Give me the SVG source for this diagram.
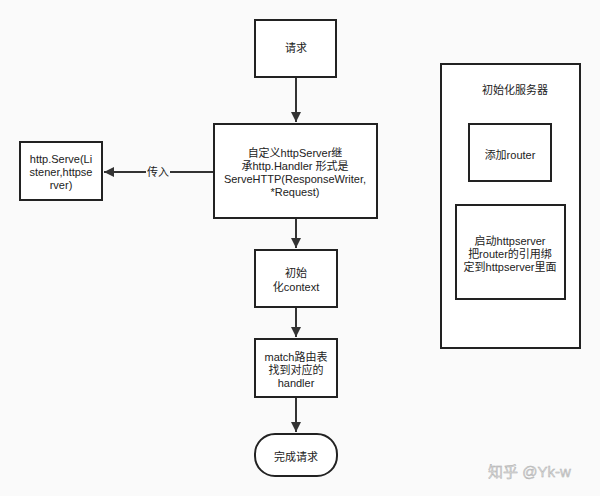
<svg xmlns="http://www.w3.org/2000/svg" width="600" height="496" viewBox="0 0 600 496">
<defs>
<style>
.n{fill:#fff;stroke:#222;stroke-width:2}
.t{font-family:"Liberation Sans","Noto Sans CJK SC",sans-serif;font-size:11px;fill:#222;text-anchor:middle}
.c{fill:none;stroke:#333;stroke-width:2}
.wm{font-family:"Liberation Sans","Noto Sans CJK SC",sans-serif;font-size:15px;fill:#d8d8d8;stroke:#aaa;stroke-width:0.4}
</style>
<marker id="ah" viewBox="0 0 10 10" refX="10" refY="5" markerWidth="10" markerHeight="10" markerUnits="userSpaceOnUse" orient="auto">
<path d="M0,0 L10,5 L0,10 z" fill="#333"/>
</marker>
</defs>
<rect width="600" height="496" fill="#fafafa"/>
<g id="connectors">
<path class="c" d="M296,77 V122" marker-end="url(#ah)"/>
<path class="c" d="M214,172 H104" marker-end="url(#ah)"/>
<path class="c" d="M296,218 V248" marker-end="url(#ah)"/>
<path class="c" d="M296,307 V337" marker-end="url(#ah)"/>
<path class="c" d="M296,397 V432" marker-end="url(#ah)"/>
<rect x="146" y="164" width="24" height="16" fill="#fafafa"/>
<text class="t" x="158" y="176">传入</text>
</g>
<g id="n-request">
<rect class="n" x="255" y="20" width="81" height="57"/>
<text class="t" x="296" y="52">请求</text>
</g>
<g id="n-server">
<rect class="n" x="214" y="124" width="163" height="94"/>
<text class="t" x="295" y="157">自定义httpServer继</text>
<text class="t" x="295" y="170">承http.Handler 形式是</text>
<text class="t" x="295" y="183">ServeHTTP(ResponseWriter,</text>
<text class="t" x="295" y="196">*Request)</text>
</g>
<g id="n-serve">
<rect class="n" x="20" y="142" width="82" height="58"/>
<text class="t" x="61" y="163">http.Serve(Li</text>
<text class="t" x="61" y="176">stener,httpse</text>
<text class="t" x="61" y="189">rver)</text>
</g>
<g id="n-context">
<rect class="n" x="255" y="250" width="82" height="57"/>
<text class="t" x="296" y="277">初始</text>
<text class="t" x="296" y="291">化context</text>
</g>
<g id="n-match">
<rect class="n" x="255" y="339" width="82" height="58"/>
<text class="t" x="296" y="361">match路由表</text>
<text class="t" x="296" y="374">找到对应的</text>
<text class="t" x="296" y="387">handler</text>
</g>
<g id="n-done">
<rect class="n" x="255" y="434" width="82" height="42" rx="20" ry="20"/>
<text class="t" x="296" y="461">完成请求</text>
</g>
<g id="n-init">
<rect class="n" x="441" y="64" width="139" height="284"/>
<text class="t" x="515" y="94">初始化服务器</text>
</g>
<g id="n-router">
<rect class="n" x="469" y="124" width="82" height="57"/>
<text class="t" x="510" y="159">添加router</text>
</g>
<g id="n-start">
<rect class="n" x="456" y="205" width="109" height="94"/>
<text class="t" x="510" y="245">启动httpserver</text>
<text class="t" x="510" y="258">把router的引用绑</text>
<text class="t" x="510" y="271">定到httpserver里面</text>
</g>
<text class="wm" x="488" y="477">知乎 @Yk-w</text>
</svg>
